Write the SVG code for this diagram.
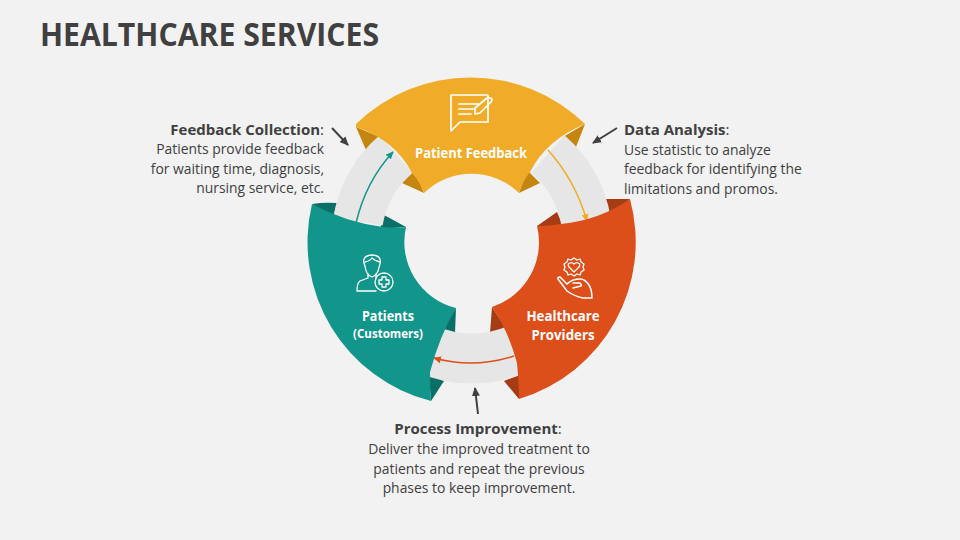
<svg xmlns="http://www.w3.org/2000/svg" width="960" height="540" viewBox="0 0 960 540">
<defs>
<style>
text{font-family:"Open Sans","Liberation Sans",sans-serif;fill:#404040}
.t{font-size:13.9px}
.h{font-size:15px;font-weight:700}
.c{font-weight:400}
.n{font-weight:700;fill:#fff}
.r{text-anchor:end}.m{text-anchor:middle}
.band{fill:none;stroke:#e6e6e6;stroke-width:50}
.ptr{fill:none;stroke:#404040;stroke-width:2}
.ic{fill:none;stroke:#fff;stroke-width:1.3;stroke-linejoin:round;stroke-linecap:round}
.ic2{fill:none;stroke:#fff;stroke-width:1.7;stroke-linejoin:round;stroke-linecap:round}
</style>
<marker id="aT" markerUnits="userSpaceOnUse" markerWidth="8" markerHeight="8" refX="7" refY="4" orient="auto"><path d="M0 0.5L8 4L0 7.5Z" fill="#12958a"/></marker>
<marker id="aY" markerUnits="userSpaceOnUse" markerWidth="8" markerHeight="8" refX="7" refY="4" orient="auto"><path d="M0 0.5L8 4L0 7.5Z" fill="#f0ac29"/></marker>
<marker id="aO" markerUnits="userSpaceOnUse" markerWidth="8" markerHeight="8" refX="7" refY="4" orient="auto"><path d="M0 0.5L8 4L0 7.5Z" fill="#dc4e1a"/></marker>
<marker id="aD" markerUnits="userSpaceOnUse" markerWidth="9" markerHeight="9" refX="8" refY="4.5" orient="auto"><path d="M0 0.5L9 4.5L0 8.5Z" fill="#404040"/></marker>
</defs>
<rect width="960" height="540" fill="#f2f2f2"/>
<text x="40" y="46" textLength="339" lengthAdjust="spacingAndGlyphs" style="font-size:32px;font-weight:700">HEALTHCARE SERVICES</text>

<g id="folds">
<path fill="#c5860f" d="M356 127L382 138L366 150Z"/>
<path fill="#c5860f" d="M424 193L415 170L402 183Z"/>
<path fill="#c5860f" d="M585 124L563 137L576 147Z"/>
<path fill="#c5860f" d="M519 193L527 170L540 183Z"/>
<path fill="#0b6e67" d="M312 204Q324 202 337 203L333 218Z"/>
<path fill="#0b6e67" d="M406 227L384 215L380 229Z"/>
<path fill="#0b6e67" d="M456 308L441 332L455 333Z"/>
<path fill="#0b6e67" d="M431 401L429 375L444 381Z"/>
<path fill="#a63c14" d="M630 199L604 199L610 216Z"/>
<path fill="#a63c14" d="M537 226L557 212L563 226Z"/>
<path fill="#a63c14" d="M492 307L507 330L490 333Z"/>
<path fill="#a63c14" d="M519 399L519 375L504 381Z"/>
</g>
<g id="bands">
<path class="band" d="M396 154A116 116 0 0 0 358 221"/>
<path class="band" d="M548 154A116 116 0 0 1 586 221"/>
<path class="band" d="M518 349A116 116 0 0 1 426 349"/>
</g>

<g id="connectors">
<path fill="none" stroke="#12958a" stroke-width="1.5" marker-end="url(#aT)" d="M356 223Q366 181 393 152"/>
<path fill="none" stroke="#f0ac29" stroke-width="1.5" marker-end="url(#aY)" d="M548 150Q575 180 587 221"/>
<path fill="none" stroke="#dc4e1a" stroke-width="1.5" marker-end="url(#aO)" d="M514 356Q474 369 434 358"/>
<path class="ptr" marker-end="url(#aD)" d="M332 128L348 145"/>
<path class="ptr" marker-end="url(#aD)" d="M617 128L593 143"/>
<path class="ptr" marker-end="url(#aD)" d="M478 414L475 388"/>
</g>

<g id="patient-feedback">
<path fill="#f0ac29" d="M356 124A164 164 0 0 1 585 124Q546 140 530 172Q522 182 519 193A68 68 0 0 0 424 193Q420 182 412 173Q395 140 356 127Z"/>
<g>
<path class="ic2" d="M451 95H487Q488 95 488 96V122H460L451 131V96Q451 95 452 95Z"/>
<path class="ic2" d="M459 104H478M459 109H475M459 114H471"/>
<path class="ic2" d="M475 114V108L487 98Q490 97 492 99Q492 102 490 103L480 113Z"/>
</g>
<text class="n m" x="471" y="158" textLength="112" lengthAdjust="spacingAndGlyphs" style="font-size:14.5px">Patient Feedback</text>
</g>

<g id="patients">
<path fill="#12958a" d="M312 204Q345 222 383 227Q395 228 406 227A68 68 0 0 0 456 308Q440 335 430 372Q430 388 431 401A164 164 0 0 1 312 204Z"/>
<g>
<path class="ic" d="M365 266Q363 261 364 259Q366 255 372 255Q378 255 380 259Q381 262 379 267Q378 275 372 277Q366 275 365 266Z"/>
<path class="ic" d="M365 262Q370 261 372 258Q375 261 380 262"/>
<path class="ic" d="M368 274V278L360 281Q357 283 357 291H376M376 274V279"/>
<circle class="ic" cx="384" cy="282" r="9"/>
<path class="ic" d="M382 277H386V280H389V284H386V287H382V284H379V280H382Z"/>
</g>
<text class="n m" x="388" y="321" textLength="52" lengthAdjust="spacingAndGlyphs" style="font-size:14.5px">Patients</text>
<text class="n m" x="388" y="338" textLength="70" lengthAdjust="spacingAndGlyphs" style="font-size:12.5px">(Customers)</text>
</g>

<g id="providers">
<path fill="#dc4e1a" d="M630 199Q600 220 561 224Q548 226 537 226A68 68 0 0 1 492 307Q508 330 517 363Q519 385 519 399A164 164 0 0 0 630 199Z"/>
<g>
<path class="ic" d="M574 258L577 260L580 259L581 262L584 264L583 267L584 270L581 272L580 275L577 274L574 276L571 274L568 275L567 272L564 270L565 267L564 264L567 262L568 259L571 260Z"/>
<path class="ic" d="M574 272L569 267Q567 264 570 263Q572 262 574 264Q576 262 578 263Q581 264 579 267Z"/>
<path class="ic" style="stroke-width:1.5" d="M558 279Q557 277 560 277L567 284Q572 279 580 279Q585 279 589 285Q592 290 592 298H583Q574 296 567 291Z"/>
<path class="ic" style="stroke-width:1.5" d="M573 283H580Q582 285 581 286L573 288"/>
</g>
<text class="n m" x="563" y="321" textLength="73" lengthAdjust="spacingAndGlyphs" style="font-size:14.5px">Healthcare</text>
<text class="n m" x="563" y="340" textLength="63" lengthAdjust="spacingAndGlyphs" style="font-size:14.5px">Providers</text>
</g>

<g id="feedback-collection">
<text class="h r" x="324" y="135">Feedback Collection<tspan class="c">:</tspan></text>
<text class="t r" x="324" y="154">Patients provide feedback</text>
<text class="t r" x="324" y="174">for waiting time, diagnosis,</text>
<text class="t r" x="324" y="193">nursing service, etc.</text>
</g>
<g id="data-analysis">
<text class="h" x="624" y="135">Data Analysis<tspan class="c">:</tspan></text>
<text class="t" x="624" y="155">Use statistic to analyze</text>
<text class="t" x="624" y="174">feedback for identifying the</text>
<text class="t" x="624" y="194">limitations and promos.</text>
</g>
<g id="process-improvement">
<text class="h m" x="478" y="434">Process Improvement<tspan class="c">:</tspan></text>
<text class="t m" x="479" y="454">Deliver the improved treatment to</text>
<text class="t m" x="479" y="474">patients and repeat the previous</text>
<text class="t m" x="479" y="493">phases to keep improvement.</text>
</g>
</svg>
